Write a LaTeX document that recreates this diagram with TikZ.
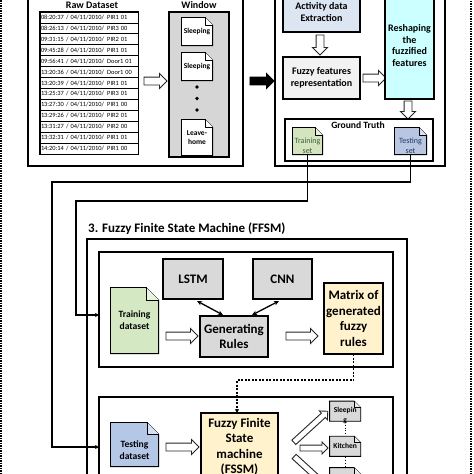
\documentclass[tikz,border=0pt]{standalone}
\usepackage{fontspec}
\setmainfont{Carlito}
\usetikzlibrary{shapes.arrows,arrows.meta,calc}
\definecolor{wgray}{HTML}{D6D6D6}
\definecolor{gray1}{HTML}{D9D9D9}
\definecolor{lgray}{HTML}{F2F2F2}
\definecolor{blue1}{HTML}{DCE6F2}
\definecolor{cyan1}{HTML}{CCFFFF}
\definecolor{green1}{HTML}{D3E4BE}
\definecolor{blue2}{HTML}{B8C6E2}
\definecolor{green2}{HTML}{D5E8C4}
\definecolor{blue3}{HTML}{B4C7E7}
\definecolor{yel}{HTML}{FFF2CC}
\definecolor{tsgreen}{HTML}{3F5F3A}
\definecolor{ttblue}{HTML}{1F3864}
\begin{document}
\begin{tikzpicture}[x=1pt,y=-1pt,
  bigbox/.style={draw, line width=2.5pt, inner sep=0pt, outer sep=0pt},
  midbox/.style={draw, line width=1.5pt, inner sep=0pt, outer sep=0pt},
  box/.style={draw, line width=1.1pt, inner sep=0pt, outer sep=0pt, align=center},
  rowbox/.style={draw, line width=0.8pt, minimum height=10.92pt, text width=96pt, inner xsep=1pt, inner ysep=0pt, align=left, font=\fontsize{6.4}{7}\selectfont},
  fa/.style={font=\fontsize{10}{11.7}\selectfont\bfseries, align=center, inner sep=0pt},
  fgt/.style={font=\fontsize{9.6}{11}\selectfont\bfseries, align=center, inner sep=0pt},
  fb/.style={font=\fontsize{13}{15.5}\selectfont\bfseries, align=center, inner sep=0pt},
  fm/.style={font=\fontsize{9.6}{12}\selectfont\bfseries, align=center, inner sep=0pt},
  fdoc/.style={font=\fontsize{7.5}{9}\selectfont\bfseries, align=center, inner sep=0pt},
  fsm/.style={font=\fontsize{8}{10}\selectfont, align=center, inner sep=0pt},
  doc/.style 2 args={inner sep=0pt, outer sep=0pt, align=center, path picture={
    \draw[line width=0.9pt, fill=#1]
      ([shift={(0.45pt,0.45pt)}]path picture bounding box.south west)
      -- ([shift={(0.45pt,-0.45pt)}]path picture bounding box.north west)
      -- ([shift={(-#2,-0.45pt)}]path picture bounding box.north east) coordinate (dC)
      -- ([shift={(-0.45pt,-#2)}]path picture bounding box.north east) coordinate (dD)
      -- ([shift={(-0.45pt,0.45pt)}]path picture bounding box.south east) -- cycle;
    \draw[line width=0.9pt, fill=#1!55!white, line join=round] (dC) -- (dC |- dD) -- (dD);
  }},
  harrow/.style={single arrow, draw=black!85, fill=white, line width=0.9pt, inner sep=3.5pt, single arrow head extend=3.5pt, minimum width=0pt, outer sep=0pt},
  sharrow/.style={single arrow, draw=black!85, fill=white, line width=0.9pt, inner sep=2.5pt, single arrow head extend=3pt, minimum width=0pt, outer sep=0pt},
  conn/.style={draw, line width=1.1pt, -{Stealth[length=4pt,width=4pt]}},
  dbl/.style={draw, line width=1.3pt, {Stealth[length=5pt,width=4.5pt]}-{Stealth[length=5pt,width=4.5pt]}},
  dconn/.style={draw, line width=1.3pt, dash pattern=on 2pt off 1.5pt, -{Stealth[length=4pt,width=4pt]}},
  outer/.style={draw, line width=2.2pt, dash pattern=on 1.5pt off 1pt}
]
\useasboundingbox (0,0) rectangle (474,474);
\clip (0,0) rectangle (474,474);
\fill[white] (0,0) rectangle (474,474);
\draw[outer] (1.3,-10) rectangle (471,490);

% ---------- section 1 ----------
\node[bigbox, minimum width=215pt, minimum height=176pt] (sec1) at (135.5,78) {};
\node[fa] (rawT) at (92,5.5) {Raw Dataset};
\foreach \t [count=\i] in {08:20:37 / 04/11/2010/\ \,PIR1 01,08:26:13 / 04/11/2010/\ \,PIR3 00,09:31:15 / 04/11/2010/\ \,PIR2 01,09:45:28 / 04/11/2010/\ \,PIR1 01,09:56:41 / 04/11/2010/\ \,Door1 01,13:20:36 / 04/11/2010/\ \,Door1 00,13:20:39 / 04/11/2010/\ \,PIR1 01,13:25:37 / 04/11/2010/\ \,PIR3 01,13:27:30 / 04/11/2010/\ \,PIR1 00,13:29:26 / 04/11/2010/\ \,PIR2 01,13:31:27 / 04/11/2010/\ \,PIR2 00,13:32:31 / 04/11/2010/\ \,PIR1 01,14:20:14 / 04/11/2010/\ \,PIR1 00}
  \node[rowbox] (r\i) at (89,{12+10.92*(\i-0.5)}) {\t};
\draw[line width=1.2pt] (r1.north west) rectangle (r13.south east);
\node[fa] (winT) at (199,5.5) {Window};
\node[box, fill=wgray, minimum width=60pt, minimum height=145pt] (win) at (199,84.5) {};
\node[doc={white}{8pt}, fdoc, minimum width=32pt, minimum height=29pt] (w1) at (197,31.5) {Sleeping};
\node[doc={white}{8pt}, fdoc, minimum width=32pt, minimum height=29pt] (w2) at (197,66.5) {Sleeping};
\fill (197,87) circle (1.9pt) (197,98.5) circle (1.9pt) (197,110) circle (1.9pt);
\node[doc={white}{8pt}, fdoc, minimum width=32pt, minimum height=37pt] (w3) at (197,137.5) {Leave-\\home};
\node[harrow, minimum height=23pt] (a1) at (153.5,81) {};
\node[harrow, fill=black, draw=black, minimum height=24pt] (a2) at (260,81) {};

% ---------- section 2 ----------
\node[bigbox, minimum width=170pt, minimum height=176pt] (sec2) at (360,78) {};
\node[box, fill=blue1, minimum width=77pt, minimum height=42pt] (ade) at (321.5,11) {};
\node[fa] (adeT) at (321.5,12) {Activity data\\Extraction};
\node[harrow, rotate=-90, minimum height=20pt] (a3) at (320,43) {};
\node[box, fill=lgray, minimum width=77pt, minimum height=42pt, fa] (ffr) at (321.5,78) {Fuzzy features\\representation};
\node[harrow, minimum height=23pt] (a4) at (372.5,78) {};
\node[box, fill=cyan1, minimum width=49pt, minimum height=109pt] (rsh) at (409.5,44.5) {};
\node[fa] (rshT) at (409.5,45.5) {Reshaping\\the\\fuzzified\\features};
\node[harrow, rotate=-90, minimum height=18pt] (a5) at (408,108) {};
\node[box, line width=1.2pt, minimum width=148pt, minimum height=42pt] (gt) at (359,140) {};
\node[fgt] (gtT) at (358,125.5) {Ground Truth};
\node[doc={green1}{8pt}, minimum width=31pt, minimum height=28pt] (ts) at (307.5,141) {};
\node[fsm, text=tsgreen] (tsT) at (307.5,145.5) {Training\\set};
\node[doc={blue2}{8pt}, minimum width=33pt, minimum height=28pt] (tt) at (410.5,141) {};
\node[fsm, text=ttblue] (ttT) at (410.5,145.5) {Testing\\set};

% ---------- section 3 ----------
\node[fb, anchor=west] (t3) at (88,229) {3. Fuzzy Finite State Machine (FFSM)};
\node[bigbox, minimum width=320pt, minimum height=251pt] (sec3) at (247,364.5) {};
\node[midbox, minimum width=294pt, minimum height=115pt] (box1) at (246,309.5) {};
\node[midbox, minimum width=294pt, minimum height=93pt] (box2) at (246,443.5) {};

\node[box, fill=gray1, minimum width=60pt, minimum height=40pt, fb] (lstm) at (193,279) {LSTM};
\node[box, fill=gray1, minimum width=59pt, minimum height=40pt, fb] (cnn) at (282.5,279) {CNN};
\node[doc={green2}{13pt}, fm, minimum width=49pt, minimum height=67pt] (trd) at (134.5,320.5) {Training\\dataset};
\node[box, fill=gray1, minimum width=68pt, minimum height=41pt, fb] (gen) at (234,336.5) {Generating\\Rules};
\node[harrow, minimum height=32pt] (a6) at (180,336) {};
\node[harrow, minimum height=32pt] (a7) at (300,336) {};
\node[box, fill=yel, minimum width=59pt, minimum height=71pt, fb] (mat) at (353.5,318.5) {Matrix of\\generated\\fuzzy\\rules};
\draw[dbl] ([xshift=4pt,yshift=-2pt]lstm.south) -- ([xshift=-11pt,yshift=1pt]gen.north);
\draw[dbl] ([xshift=-3.5pt,yshift=-2pt]cnn.south) -- ([xshift=18pt,yshift=1pt]gen.north);

\node[doc={blue3}{12pt}, minimum width=49pt, minimum height=45pt] (tsd) at (134.5,444.5) {};
\node[fm] (tsdT) at (134.5,450) {Testing\\dataset};
\node[harrow, minimum height=33pt] (a10) at (180.5,447) {};
\node[box, fill=yel, minimum width=77pt, minimum height=77pt] (fsm) at (239.5,451.5) {};
\node[fb, anchor=north] (fsmT) at (239.5,418) {Fuzzy Finite\\State\\machine\\(FSSM)};

\node[sharrow, minimum height=28pt] (a8) at (312.5,448) {};
\node[sharrow, rotate=42.4, minimum height=46pt] (a9) at (309.7,427.8) {};
\node[sharrow, rotate=-42.4, minimum height=46pt] (a11) at (310,471) {};

\node[doc={gray1}{7pt}, minimum width=32pt, minimum height=21pt] (o1) at (345.2,411.2) {};
\node[fdoc, font=\fontsize{7.5}{9.5}\selectfont\bfseries] (o1T) at (345.2,415.5) {Sleepin\\g};
\node[doc={gray1}{7pt}, fdoc, minimum width=32pt, minimum height=21pt] (o2) at (345.2,446.3) {Kitchen};
\node[doc={gray1}{7pt}, minimum width=32pt, minimum height=21pt] (o3) at (345.2,477.7) {};
\draw[dotted, line width=0.9pt] (o1.south) -- (o2.north) (o2.south) -- (o3.north);

% ---------- connectors ----------
\coordinate (c1) at (76,201);
\coordinate (c2) at (76,315);
\coordinate (c3) at (52,182);
\coordinate (c4) at (52,447);
\coordinate (c5) at (237,380);
\draw[conn] (ts.south) -- (ts.south |- c1) -- (c1) -- (c2) -- (c2 -| box1.west);
\draw[conn] (tt.south) -- (tt.south |- c3) -- (c3) -- (c4) -- (c4 -| box2.west);
\draw[dconn] (mat.south) -- (mat.south |- c5) -- (c5) -- (c5 |- fsm.north);
\end{tikzpicture}
\end{document}
